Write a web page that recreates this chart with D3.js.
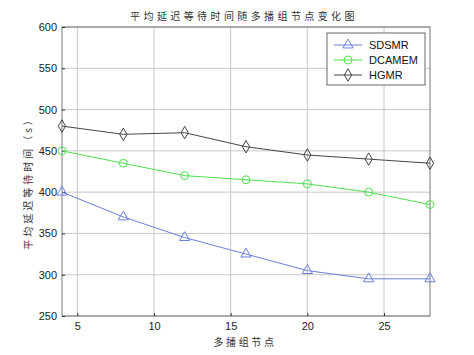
<!DOCTYPE html>
<html><head><meta charset="utf-8">
<script src="https://cdn.jsdelivr.net/npm/d3@7"></script>
<style>body{margin:0;background:#fff}svg{display:block}</style>
</head><body>
<script>
const xValues = [4, 8, 12, 16, 20, 24, 28];
const sdsmr = [400, 370, 345, 325, 305, 295, 295];
const dcamem = [450, 435, 420, 415, 410, 400, 385];
const hgmr = [480, 470, 472, 455, 445, 440, 435];
const seriesNames = ["SDSMR", "DCAMEM", "HGMR"];
const xTicks = [5, 10, 15, 20, 25];
const yTicks = [250, 300, 350, 400, 450, 500, 550, 600];
const title = "平均延迟等待时间随多播组节点变化图";
const xLabel = "多播组节点";
const yLabel = "平均延迟等待时间（s）";

const W = 474, H = 355;
const m = {left: 62, right: 44, top: 27, bottom: 39};
const svg = d3.select("body").append("svg").attr("width", W).attr("height", H);
const x = d3.scaleLinear().domain([4, 28]).range([m.left, W - m.right]);
const y = d3.scaleLinear().domain([250, 600]).range([H - m.bottom, m.top]);
const grid = "#c8c8c8";

svg.append("g").selectAll("line").data(xTicks).join("line")
  .attr("x1", d => x(d)).attr("x2", d => x(d)).attr("y1", y(250)).attr("y2", y(600))
  .attr("stroke", grid).attr("stroke-width", 1);
svg.append("g").selectAll("line").data(yTicks).join("line")
  .attr("x1", x(4)).attr("x2", x(28)).attr("y1", d => y(d)).attr("y2", d => y(d))
  .attr("stroke", grid).attr("stroke-width", 1);
svg.append("rect").attr("x", x(4)).attr("y", y(600)).attr("width", x(28) - x(4)).attr("height", y(250) - y(600))
  .attr("fill", "none").attr("stroke", "#555").attr("stroke-width", 0.8);

const font = "Liberation Sans, Arial, sans-serif";
const xa = svg.append("g").attr("transform", `translate(0,${y(250)})`)
  .call(d3.axisBottom(x).tickValues(xTicks).tickSize(-3).tickPadding(6));
xa.select(".domain").remove();
xa.selectAll("text").attr("font-family", font).attr("font-size", 11).attr("fill", "#222");
xa.selectAll("line").attr("stroke", "#333");
const ya = svg.append("g").attr("transform", `translate(${x(4)},0)`)
  .call(d3.axisLeft(y).tickValues(yTicks).tickSize(-3).tickPadding(5));
ya.select(".domain").remove();
ya.selectAll("text").attr("font-family", font).attr("font-size", 11).attr("fill", "#222");
ya.selectAll("line").attr("stroke", "#333");

const cjk = "Noto Sans CJK SC, sans-serif";
svg.append("text").attr("x", 244).attr("y", 20).attr("text-anchor", "middle")
  .attr("font-family", cjk).attr("font-size", 10).attr("letter-spacing", 3.4).attr("fill", "#333").text(title);
svg.append("text").attr("x", 245).attr("y", 346).attr("text-anchor", "middle")
  .attr("font-family", cjk).attr("font-size", 10).attr("letter-spacing", 2.6).attr("fill", "#333").text(xLabel);
svg.append("text").attr("transform", `translate(32,181) rotate(-90)`).attr("text-anchor", "middle")
  .attr("font-family", cjk).attr("font-size", 10).attr("letter-spacing", 3).attr("fill", "#333").text(yLabel);

const colors = ["#6b7fe0", "#4ee04e", "#444444"];
const shapes = [d3.symbolTriangle, d3.symbolCircle, d3.symbolDiamond];
const sizes = [45, 50, 45];
const data = [sdsmr, dcamem, hgmr];
const line = d3.line().x((d, i) => x(xValues[i])).y(d => y(d));

data.forEach((s, k) => {
  svg.append("path").datum(s).attr("d", line).attr("fill", "none").attr("stroke", colors[k]).attr("stroke-width", 1);
  svg.append("g").selectAll("path").data(s).join("path")
    .attr("transform", (d, i) => `translate(${x(xValues[i])},${y(d)})`)
    .attr("d", d3.symbol().type(shapes[k]).size(sizes[k]))
    .attr("fill", "none").attr("stroke", colors[k]).attr("stroke-width", 1);
});

const lg = svg.append("g");
const lx = 327, ly = 33, lw = 98, lh = 52;
lg.append("rect").attr("x", lx).attr("y", ly).attr("width", lw).attr("height", lh)
  .attr("fill", "#fff").attr("stroke", "#444").attr("stroke-width", 0.8);
seriesNames.forEach((n, k) => {
  const yy = ly + 12 + k * 15;
  lg.append("line").attr("x1", lx + 7).attr("x2", lx + 35).attr("y1", yy).attr("y2", yy)
    .attr("stroke", colors[k]).attr("stroke-width", 1);
  lg.append("path").attr("transform", `translate(${lx + 21},${yy})`)
    .attr("d", d3.symbol().type(shapes[k]).size(sizes[k])).attr("fill", "none").attr("stroke", colors[k]);
  lg.append("text").attr("x", lx + 42).attr("y", yy + 4).attr("font-family", font).attr("font-size", 11)
    .attr("fill", "#111").text(n);
});
</script>
</body></html>
